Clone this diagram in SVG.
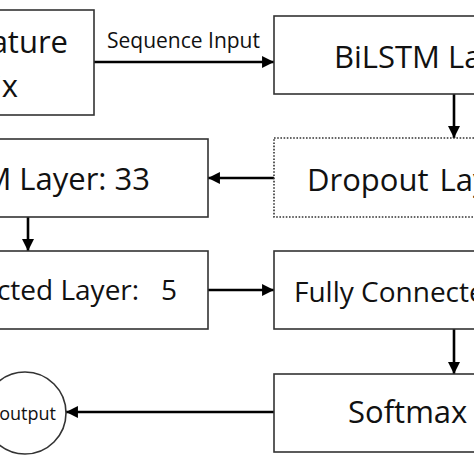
<svg xmlns="http://www.w3.org/2000/svg" width="474" height="474" viewBox="0 0 474 474">
<defs>
<marker id="ah" viewBox="0 0 10 10" refX="10" refY="5" markerWidth="4.6" markerHeight="4.6" orient="auto" markerUnits="strokeWidth"><path d="M0,0 L10,5 L0,10 z" fill="#000"/></marker>
<style>
.box{fill:#fff;stroke:#333;stroke-width:1.6}
.dot{fill:#fff;stroke:#333;stroke-width:1.6;stroke-dasharray:1.6 1.6}
.t{font-family:"Open Sans","Noto Sans",sans-serif;fill:#111}
.big{font-size:31px}
.mid{font-size:28px}
.con{stroke:#000;stroke-width:2.6;fill:none;marker-end:url(#ah)}
</style>
</defs>
<rect width="474" height="474" fill="#fff"/>
<g id="connectors">
<line class="con" x1="94" y1="62" x2="274" y2="62"/>
<line class="con" x1="454" y1="94" x2="454" y2="138"/>
<line class="con" x1="274" y1="178" x2="208" y2="178"/>
<line class="con" x1="28" y1="217" x2="28" y2="251"/>
<line class="con" x1="208" y1="290" x2="274" y2="290"/>
<line class="con" x1="454" y1="329" x2="454" y2="374"/>
<line class="con" x1="274" y1="412" x2="66" y2="412"/>
<text class="t" x="107" y="48" font-size="21">Sequence Input</text>
</g>
<g id="feature">
<rect class="box" x="-20" y="10" width="114" height="105"/>
<text class="t big" x="68" y="53" text-anchor="end">Feature</text>
<text class="t big" x="18" y="97" text-anchor="end">Matrix</text>
</g>
<g id="bilstm">
<rect class="box" x="274" y="16" width="220" height="78"/>
<text class="t big" x="334" y="68">BiLSTM Layer</text>
</g>
<g id="dropout">
<rect class="dot" x="274" y="138" width="220" height="79"/>
<text class="t big" x="307" y="191" word-spacing="3">Dropout Layer</text>
</g>
<g id="lstm">
<rect class="box" x="-20" y="139" width="228" height="78"/>
<text class="t big" x="150" y="190" text-anchor="end">LSTM Layer: 33</text>
</g>
<g id="fc5">
<rect class="box" x="-20" y="251" width="228" height="78"/>
<text class="t mid" x="177" y="300" text-anchor="end" xml:space="preserve">Fully Connected Layer:   5</text>
</g>
<g id="fc">
<rect class="box" x="274" y="251" width="220" height="78"/>
<text class="t mid" x="294" y="302">Fully Connected Layer</text>
</g>
<g id="softmax">
<rect class="box" x="274" y="374" width="220" height="78"/>
<text class="t big" x="348" y="423">Softmax</text>
</g>
<g id="output">
<circle class="box" cx="25" cy="413" r="41"/>
<text class="t" x="56" y="420" font-size="18" text-anchor="end">output</text>
</g>
</svg>
